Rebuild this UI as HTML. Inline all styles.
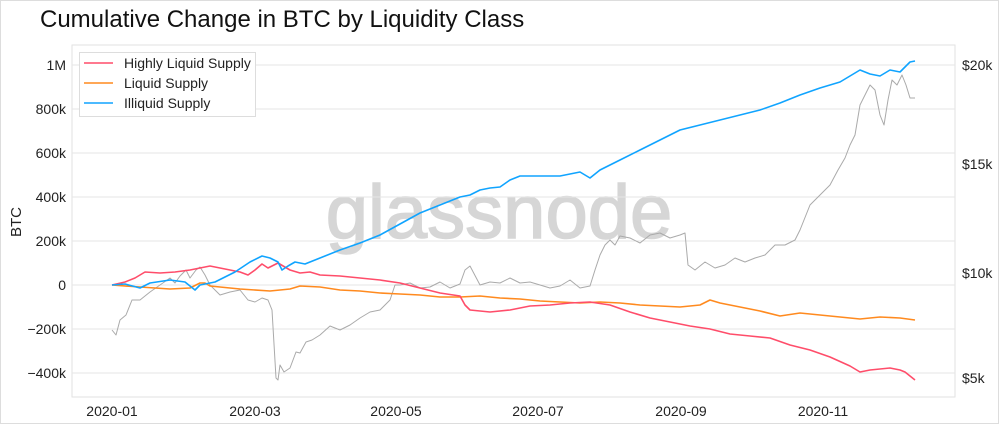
<!DOCTYPE html>
<html><head><style>
body{margin:0;background:#fff;}
svg{display:block;font-family:"Liberation Sans",sans-serif;}
</style></head><body>
<svg width="1000" height="425" viewBox="0 0 1000 425">
<rect x="0.5" y="0.5" width="998" height="423" fill="#fff" stroke="#ddd"/>
<text x="40" y="27" font-size="24" fill="#111">Cumulative Change in BTC by Liquidity Class</text>
<text x="499" y="238" font-size="76" fill="#d6d6d6" text-anchor="middle" stroke="#d6d6d6" stroke-width="1.5">glassnode</text>
<rect x="72" y="45" width="883" height="352" fill="none" stroke="#e2e2e2"/>
<g stroke="#e6e6e6">
<line x1="72" x2="955" y1="65" y2="65"/><line x1="72" x2="955" y1="109" y2="109"/><line x1="72" x2="955" y1="153" y2="153"/><line x1="72" x2="955" y1="197" y2="197"/><line x1="72" x2="955" y1="241" y2="241"/><line x1="72" x2="955" y1="285" y2="285"/><line x1="72" x2="955" y1="329" y2="329"/><line x1="72" x2="955" y1="373" y2="373"/>
</g>
<g font-size="14" fill="#222" text-anchor="end">
<text x="66" y="70">1M</text><text x="66" y="114">800k</text><text x="66" y="158">600k</text><text x="66" y="202">400k</text><text x="66" y="246">200k</text><text x="66" y="290">0</text><text x="66" y="334">−200k</text><text x="66" y="378">−400k</text>
</g>
<g font-size="14" fill="#222">
<text x="962" y="70">$20k</text><text x="962" y="169">$15k</text><text x="962" y="278">$10k</text><text x="962" y="383">$5k</text>
</g>
<g font-size="14" fill="#222" text-anchor="middle">
<text x="112" y="416">2020-01</text><text x="255" y="416">2020-03</text><text x="396" y="416">2020-05</text><text x="538" y="416">2020-07</text><text x="681" y="416">2020-09</text><text x="823" y="416">2020-11</text>
</g>
<text transform="translate(21,222) rotate(-90)" font-size="15" fill="#222" text-anchor="middle">BTC</text>
<g fill="none" stroke-linejoin="round">
<polyline stroke="#aaa" stroke-width="1" points="112,330 116,335 120,320 126,315 132,300 140,300 150,292 160,285 170,278 175,283 180,276 186,270 190,278 196,270 200,267 205,275 210,285 220,295 230,292 240,290 248,300 255,302 262,298 268,300 272,310 276,378 278,380 280,365 284,372 290,368 296,352 300,353 306,342 312,340 320,335 330,326 340,330 350,325 360,318 370,312 380,310 390,300 395,285 400,285 410,283 420,288 430,287 440,282 450,288 460,284 465,270 470,266 480,285 490,282 500,283 510,278 520,283 530,282 540,285 550,288 560,286 570,280 580,288 590,286 595,270 600,255 605,245 610,240 615,245 620,236 630,238 640,243 650,235 660,233 670,238 680,235 685,233 688,265 695,270 705,262 715,268 725,265 735,258 745,262 755,258 765,255 775,245 785,245 795,240 800,230 810,205 820,195 830,185 838,170 845,158 850,145 855,135 860,105 865,95 870,85 875,90 880,115 884,125 888,100 892,80 897,85 902,75 906,85 910,98 915,98"/>
<polyline stroke="#ff8a1f" stroke-width="1.6" points="112,285 140,287 170,289 190,288 200,283 205,283 210,286 240,289 270,291 280,290 290,289 300,286 320,287 340,290 360,291 380,293 400,294 420,295 440,297 460,297 480,296 500,298 520,299 540,301 560,302 580,303 600,302 620,303 640,305 660,306 680,307 700,305 710,300 720,303 740,307 760,311 780,316 800,313 820,315 840,317 860,319 880,317 900,318 915,320"/>
<polyline stroke="#ff4d6a" stroke-width="1.6" points="112,285 125,282 135,278 145,272 160,273 175,272 190,270 200,268 210,266 220,268 230,270 240,272 248,275 255,270 262,264 268,268 278,263 290,270 300,273 310,272 320,275 340,276 360,278 380,280 400,283 420,288 440,293 460,296 465,305 470,310 490,312 510,310 530,306 550,305 570,303 590,302 610,305 630,312 650,318 670,322 690,326 710,329 730,334 750,336 770,338 790,345 810,350 830,357 850,366 860,372 870,370 890,368 900,370 905,372 910,376 915,380"/>
<polyline stroke="#10a4ff" stroke-width="1.6" points="112,285 125,284 140,288 150,283 170,280 185,282 195,290 200,285 215,282 235,272 250,262 262,256 270,258 278,262 282,270 288,266 295,262 305,264 320,258 340,250 360,243 380,235 400,224 420,213 440,205 460,197 470,195 480,190 490,188 500,187 510,180 520,176 540,176 560,176 580,172 590,178 600,170 620,160 640,150 660,140 680,130 700,125 720,120 740,115 760,110 780,103 800,95 820,88 840,82 860,70 870,74 880,76 890,70 900,72 910,62 915,61"/>
</g>
<rect x="79.5" y="52.5" width="176" height="64" fill="#fff" stroke="#ddd"/>
<line x1="84" x2="113" y1="63" y2="63" stroke="#ff4d6a" stroke-width="1.6"/>
<line x1="84" x2="113" y1="83" y2="83" stroke="#ff8a1f" stroke-width="1.6"/>
<line x1="84" x2="113" y1="103" y2="103" stroke="#10a4ff" stroke-width="1.6"/>
<g font-size="14" fill="#222">
<text x="124" y="68">Highly Liquid Supply</text><text x="124" y="88">Liquid Supply</text><text x="124" y="108">Illiquid Supply</text>
</g>
</svg>
</body></html>
